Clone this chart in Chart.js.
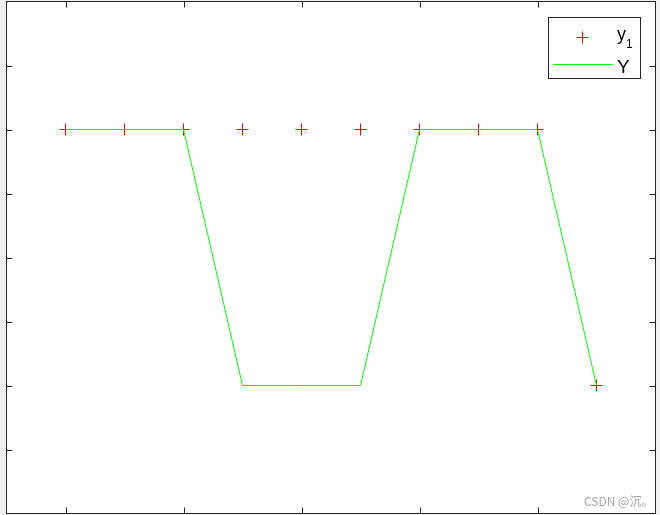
<!DOCTYPE html>
<html>
<head>
<meta charset="utf-8">
<script src="https://cdn.jsdelivr.net/npm/chart.js@4"></script>
<style>
  html, body { margin: 0; padding: 0; background: #f0f0f0; }
  #wrap { width: 660px; height: 515px; }
</style>
</head>
<body>
<div id="wrap"><canvas id="myChart" width="660" height="515"></canvas></div>
<script>
const xValues = [1, 2, 3, 4, 5, 6, 7, 8, 9, 10];
const y1Values = [1, 1, 1, 1, 1, 1, 1, 1, 1, 0];
const bigYValues = [1, 1, 1, 0, 0, 0, 1, 1, 1, 0];
const xTicks = [1, 3, 5, 7, 9];
const yTicks = [-0.25, 0, 0.25, 0.5, 0.75, 1, 1.25];

const toPoints = (ys) => xValues.map((x, i) => ({ x: x, y: ys[i] }));

// white plot area, box with inward ticks, legend and watermark
const matlabLook = {
  id: 'matlabLook',
  beforeDraw(chart) {
    const { ctx, chartArea: a } = chart;
    ctx.save();
    ctx.fillStyle = '#ffffff';
    ctx.fillRect(a.left, a.top, a.right - a.left, a.bottom - a.top);
    ctx.restore();
  },
  afterDraw(chart) {
    const { ctx, chartArea: a, scales } = chart;
    const len = 6;
    ctx.save();
    ctx.strokeStyle = '#262626';
    ctx.lineWidth = 1;
    ctx.strokeRect(a.left, a.top, a.right - a.left, a.bottom - a.top);
    ctx.beginPath();
    xTicks.forEach(v => {
      const px = Math.round(scales.x.getPixelForValue(v)) + 0.5;
      ctx.moveTo(px, a.bottom); ctx.lineTo(px, a.bottom - len);
      ctx.moveTo(px, a.top); ctx.lineTo(px, a.top + len);
    });
    yTicks.forEach(v => {
      const py = Math.round(scales.y.getPixelForValue(v)) + 0.5;
      ctx.moveTo(a.left, py); ctx.lineTo(a.left + len, py);
      ctx.moveTo(a.right, py); ctx.lineTo(a.right - len, py);
    });
    ctx.stroke();

    // legend
    const bx = 548.5, by = 17.5, bw = 92, bh = 61;
    ctx.fillStyle = '#ffffff';
    ctx.fillRect(bx, by, bw, bh);
    ctx.strokeStyle = '#262626';
    ctx.strokeRect(bx, by, bw, bh);

    ctx.strokeStyle = '#ff0000';
    ctx.beginPath();
    ctx.moveTo(576.5, 37.5); ctx.lineTo(588.5, 37.5);
    ctx.moveTo(582.5, 31.5); ctx.lineTo(582.5, 43.5);
    ctx.stroke();

    ctx.strokeStyle = '#00ff00';
    ctx.beginPath();
    ctx.moveTo(553, 64.5); ctx.lineTo(613, 64.5);
    ctx.stroke();

    ctx.fillStyle = '#000000';
    ctx.textBaseline = 'alphabetic';
    ctx.font = '18px "Liberation Sans", Arial, sans-serif';
    ctx.fillText('y', 617, 40);
    ctx.font = '12px "Liberation Sans", Arial, sans-serif';
    ctx.fillText('1', 626, 48);
    ctx.font = '19px "Liberation Sans", Arial, sans-serif';
    ctx.fillText('Y', 617, 73);

    // watermark
    ctx.fillStyle = '#a6a6a6';
    ctx.font = '12px "Noto Sans CJK SC", "Liberation Sans", sans-serif';
    ctx.fillText('CSDN @沉。', 584, 506);
    ctx.restore();
  }
};

new Chart(document.getElementById('myChart'), {
  type: 'scatter',
  data: {
    datasets: [
      {
        label: 'y1',
        data: toPoints(y1Values),
        showLine: false,
        pointStyle: 'cross',
        pointRadius: 6,
        pointBorderColor: '#ff0000',
        pointBorderWidth: 1,
        order: 1
      },
      {
        label: 'Y',
        data: toPoints(bigYValues),
        showLine: true,
        borderColor: '#00ff00',
        borderWidth: 1,
        pointRadius: 0,
        tension: 0,
        order: 0
      }
    ]
  },
  options: {
    responsive: false,
    animation: false,
    devicePixelRatio: 1,
    layout: { autoPadding: false, padding: { left: 6.5, top: 1.5, right: 4.5, bottom: 1.5 } },
    plugins: { legend: { display: false }, tooltip: { enabled: false } },
    scales: {
      x: { type: 'linear', min: 0, max: 11, display: false },
      y: { type: 'linear', min: -0.5, max: 1.5, display: false }
    }
  },
  plugins: [matlabLook]
});
</script>
</body>
</html>
